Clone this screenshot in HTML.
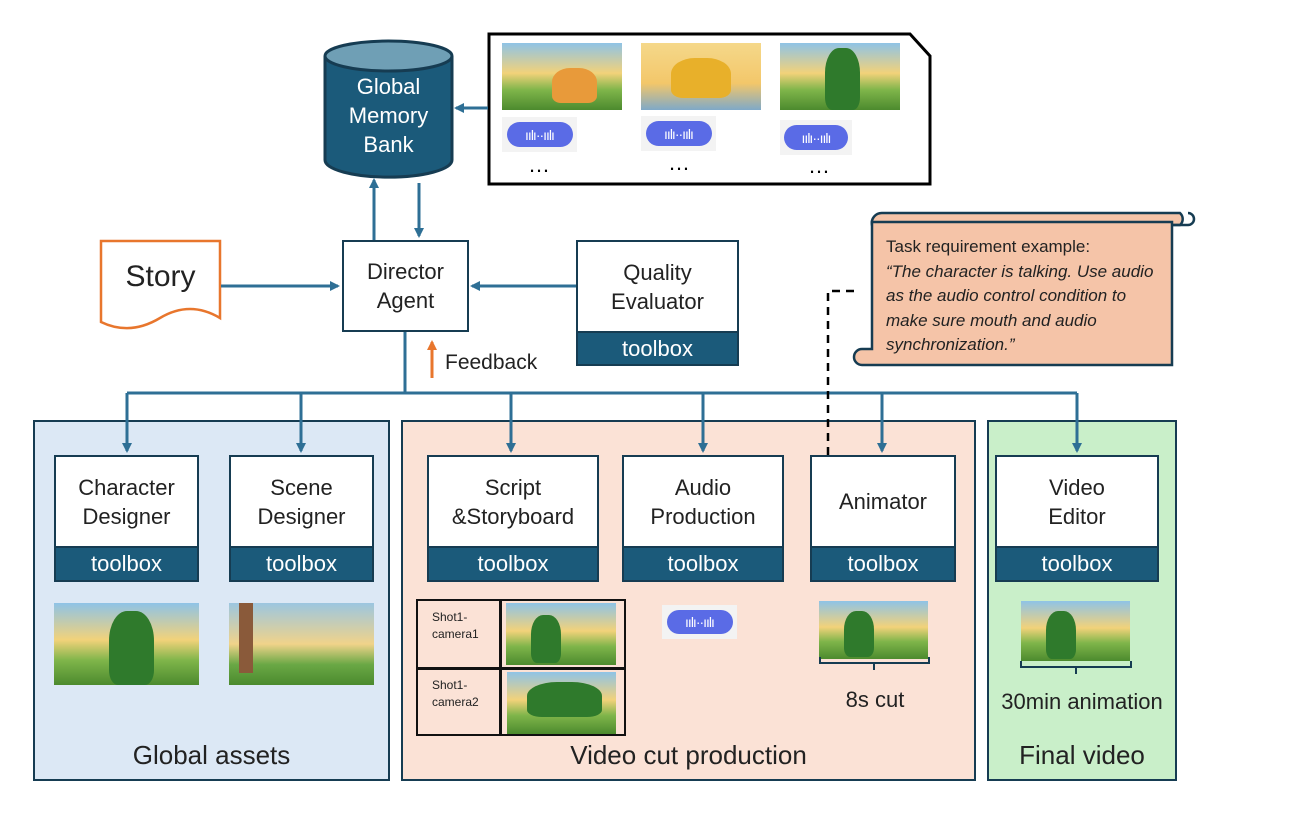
<!DOCTYPE html>
<html><head><meta charset="utf-8"><style>
body{margin:0;width:1296px;height:834px;background:#fff;position:relative;overflow:hidden;font-family:"Liberation Sans","DejaVu Sans",sans-serif;}
.a{position:absolute;box-sizing:border-box;}
.box{position:absolute;box-sizing:border-box;border:2.5px solid #163c52;background:#fff;display:flex;align-items:center;justify-content:center;text-align:center;font-size:22px;line-height:29px;color:#222;}
.tb{position:absolute;box-sizing:border-box;background:#1b5a7a;border:2.5px solid #163c52;color:#fff;font-size:22px;display:flex;align-items:center;justify-content:center;}
.panel{position:absolute;box-sizing:border-box;border:2.5px solid #163c52;}
.lab{position:absolute;font-size:26px;color:#222;text-align:center;}
.img{position:absolute;background:linear-gradient(#8fc3e6 0%,#f2d27a 45%,#7fb54a 70%,#4c8a2e 100%);overflow:hidden;}
.dino{position:absolute;background:#2f7a2c;border-radius:40% 40% 20% 20%;}
.wave{position:absolute;background:#f3f3f3;}
.wave div{position:absolute;left:6%;top:15%;width:88%;height:70%;background:#5a6be6;border-radius:20px;color:#fff;font-size:14px;letter-spacing:-1px;display:flex;align-items:center;justify-content:center;}
</style></head><body>
<svg class="a" style="left:0;top:0" width="1296" height="834">
<defs><marker id="ar" markerWidth="10" markerHeight="10" refX="8" refY="5" orient="auto" markerUnits="userSpaceOnUse"><path d="M0,0 L10,5 L0,10 z" fill="#2e6f95"/></marker>
<marker id="ao" markerWidth="10" markerHeight="10" refX="8" refY="5" orient="auto" markerUnits="userSpaceOnUse"><path d="M0,0 L10,5 L0,10 z" fill="#e8762d"/></marker></defs>
<path d="M325,56 L325,160 A63,17 0 0 0 452,160 L452,56" fill="#1b5a7a" stroke="#163c52" stroke-width="3"/>
<ellipse cx="388.5" cy="56" rx="63.5" ry="15" fill="#6f9fb5" stroke="#163c52" stroke-width="3"/>
<path d="M489,34 L910,34 L930,56 L930,184 L489,184 Z" fill="#fff" stroke="#000" stroke-width="3"/>
<path d="M101,241 L220,241 L220,318 Q190,300 160,318 Q130,336 101,322 Z" fill="#fff" stroke="#e8762d" stroke-width="2.5"/>
</svg>
<div class="panel" style="left:33px;top:420px;width:357px;height:361px;background:#dce8f5"></div>
<div class="panel" style="left:401px;top:420px;width:575px;height:361px;background:#fbe2d6"></div>
<div class="panel" style="left:987px;top:420px;width:190px;height:361px;background:#c9efc9"></div>
<svg class="a" style="left:0;top:0" width="1296" height="834">
<defs><marker id="ar2" markerWidth="10" markerHeight="10" refX="8" refY="5" orient="auto" markerUnits="userSpaceOnUse"><path d="M0,0 L10,5 L0,10 z" fill="#2e6f95"/></marker>
<marker id="ao2" markerWidth="10" markerHeight="10" refX="8" refY="5" orient="auto" markerUnits="userSpaceOnUse"><path d="M0,0 L10,5 L0,10 z" fill="#e8762d"/></marker></defs>
<g stroke="#2e6f95" stroke-width="3" fill="none">
<line x1="488" y1="108" x2="456" y2="108" marker-end="url(#ar2)"/>
<line x1="374" y1="240" x2="374" y2="180" marker-end="url(#ar2)"/>
<line x1="419" y1="183" x2="419" y2="236" marker-end="url(#ar2)"/>
<line x1="221" y1="286" x2="338" y2="286" marker-end="url(#ar2)"/>
<line x1="576" y1="286" x2="472" y2="286" marker-end="url(#ar2)"/>
<line x1="405" y1="332" x2="405" y2="393"/>
<line x1="127" y1="393" x2="1077" y2="393"/>
<line x1="127" y1="393" x2="127" y2="451" marker-end="url(#ar2)"/>
<line x1="301" y1="393" x2="301" y2="451" marker-end="url(#ar2)"/>
<line x1="511" y1="393" x2="511" y2="451" marker-end="url(#ar2)"/>
<line x1="703" y1="393" x2="703" y2="451" marker-end="url(#ar2)"/>
<line x1="882" y1="393" x2="882" y2="451" marker-end="url(#ar2)"/>
<line x1="1077" y1="393" x2="1077" y2="451" marker-end="url(#ar2)"/>
</g>
<line x1="432" y1="378" x2="432" y2="342" stroke="#e8762d" stroke-width="3" marker-end="url(#ao2)"/>
<path d="M828,455 L828,291 L856,291" stroke="#000" stroke-width="2.5" stroke-dasharray="8,6" fill="none"/>
<path d="M872,225 L1180,225 A8,8 0 0 0 1180,213 L882,213 A10,10 0 0 0 872,225 Z" fill="#f5c4a8" stroke="#163c52" stroke-width="2.5"/>
<path d="M872,222 L1172,222 L1172,365 L862,365 A8,8 0 0 1 862,349 L872,349 Z" fill="#f5c4a8" stroke="#163c52" stroke-width="2.5"/>
<path d="M1172,225 L1188,225 A6,6 0 0 0 1188,213" fill="none" stroke="#163c52" stroke-width="2.5"/>
</svg>
<div class="a" style="left:886px;top:235px;width:272px;font-size:17px;line-height:24.5px;color:#222">Task requirement example:<br><i>“The character is talking. Use audio as the audio control condition to make sure mouth and audio synchronization.”</i></div>
<div class="a" style="left:325px;top:72px;width:127px;text-align:center;color:#fff;font-size:22px;line-height:29px">Global<br>Memory<br>Bank</div>
<div class="a" style="left:101px;top:260px;width:119px;text-align:center;font-size:30px;color:#222">Story</div>
<div class="box" style="left:342px;top:240px;width:127px;height:92px">Director<br>Agent</div>
<div class="box" style="left:576px;top:240px;width:163px;height:93px">Quality<br>Evaluator</div>
<div class="tb" style="left:576px;top:331px;width:163px;height:35px">toolbox</div>
<div class="a" style="left:445px;top:351px;font-size:21px;color:#222">Feedback</div>
<div class="img" style="left:502px;top:43px;width:120px;height:67px"><div class="dino" style="left:50px;top:25px;width:45px;height:35px;background:#e89a3a"></div></div>
<div class="img" style="left:641px;top:43px;width:120px;height:67px;background:linear-gradient(#f5d88a,#f3c76a 60%,#7fa9c8)"><div class="dino" style="left:30px;top:15px;width:60px;height:40px;background:#e8b02a"></div></div>
<div class="img" style="left:780px;top:43px;width:120px;height:67px"><div class="dino" style="left:45px;top:5px;width:35px;height:62px"></div></div>
<div class="wave" style="left:502px;top:117px;width:75px;height:35px"><div>ıılı··ıılı</div></div>
<div class="wave" style="left:641px;top:116px;width:75px;height:35px"><div>ıılı··ıılı</div></div>
<div class="wave" style="left:780px;top:120px;width:72px;height:35px"><div>ıılı··ıılı</div></div>
<div class="a" style="left:528px;top:152px;font-size:22px">…</div>
<div class="a" style="left:668px;top:150px;font-size:22px">…</div>
<div class="a" style="left:808px;top:153px;font-size:22px">…</div>
<div class="box" style="left:54px;top:455px;width:145px;height:93px">Character<br>Designer</div>
<div class="tb" style="left:54px;top:546px;width:145px;height:36px">toolbox</div>
<div class="box" style="left:229px;top:455px;width:145px;height:93px">Scene<br>Designer</div>
<div class="tb" style="left:229px;top:546px;width:145px;height:36px">toolbox</div>
<div class="box" style="left:427px;top:455px;width:172px;height:93px">Script<br>&amp;Storyboard</div>
<div class="tb" style="left:427px;top:546px;width:172px;height:36px">toolbox</div>
<div class="box" style="left:622px;top:455px;width:162px;height:93px">Audio<br>Production</div>
<div class="tb" style="left:622px;top:546px;width:162px;height:36px">toolbox</div>
<div class="box" style="left:810px;top:455px;width:146px;height:93px">Animator</div>
<div class="tb" style="left:810px;top:546px;width:146px;height:36px">toolbox</div>
<div class="box" style="left:995px;top:455px;width:164px;height:93px">Video<br>Editor</div>
<div class="tb" style="left:995px;top:546px;width:164px;height:36px">toolbox</div>
<div class="img" style="left:54px;top:603px;width:145px;height:82px"><div class="dino" style="left:55px;top:8px;width:45px;height:74px"></div></div>
<div class="img" style="left:229px;top:603px;width:145px;height:82px;background:linear-gradient(#9cc6e0,#f0d38a 50%,#6aa845 75%,#4b8a2e)"><div class="a" style="left:10px;top:0;width:14px;height:70px;background:#8a5a3a"></div></div>
<div class="a" style="left:416px;top:599px;width:210px;height:137px;border:2.5px solid #111"></div>
<div class="a" style="left:416px;top:667px;width:210px;height:2.5px;background:#111"></div>
<div class="a" style="left:499px;top:599px;width:2.5px;height:137px;background:#111"></div>
<div class="a" style="left:432px;top:609px;font-size:12px;line-height:17px;color:#222">Shot1-<br>camera1</div>
<div class="a" style="left:432px;top:677px;font-size:12px;line-height:17px;color:#222">Shot1-<br>camera2</div>
<div class="img" style="left:506px;top:603px;width:110px;height:62px"><div class="dino" style="left:25px;top:12px;width:30px;height:48px"></div></div>
<div class="img" style="left:507px;top:672px;width:109px;height:62px"><div class="dino" style="left:20px;top:10px;width:75px;height:35px"></div></div>
<div class="wave" style="left:662px;top:605px;width:75px;height:34px"><div>ıılı··ıılı</div></div>
<div class="img" style="left:819px;top:601px;width:109px;height:58px"><div class="dino" style="left:25px;top:10px;width:30px;height:46px"></div></div>
<div class="img" style="left:1021px;top:601px;width:109px;height:60px"><div class="dino" style="left:25px;top:10px;width:30px;height:48px"></div></div>
<svg class="a" style="left:0;top:0" width="1296" height="834">
<path d="M820,657 L820,663 L929,663 L929,657 M874,663 L874,670" stroke="#163c52" stroke-width="2" fill="none"/>
<path d="M1021,661 L1021,667 L1131,667 L1131,661 M1076,667 L1076,674" stroke="#163c52" stroke-width="2" fill="none"/>
</svg>
<div class="a" style="left:820px;top:687px;width:110px;text-align:center;font-size:22px;color:#222">8s cut</div>
<div class="a" style="left:987px;top:689px;width:190px;text-align:center;font-size:22px;color:#222">30min animation</div>
<div class="lab" style="left:33px;top:740px;width:357px">Global assets</div>
<div class="lab" style="left:401px;top:740px;width:575px">Video cut production</div>
<div class="lab" style="left:987px;top:740px;width:190px">Final video</div>
</body></html>
